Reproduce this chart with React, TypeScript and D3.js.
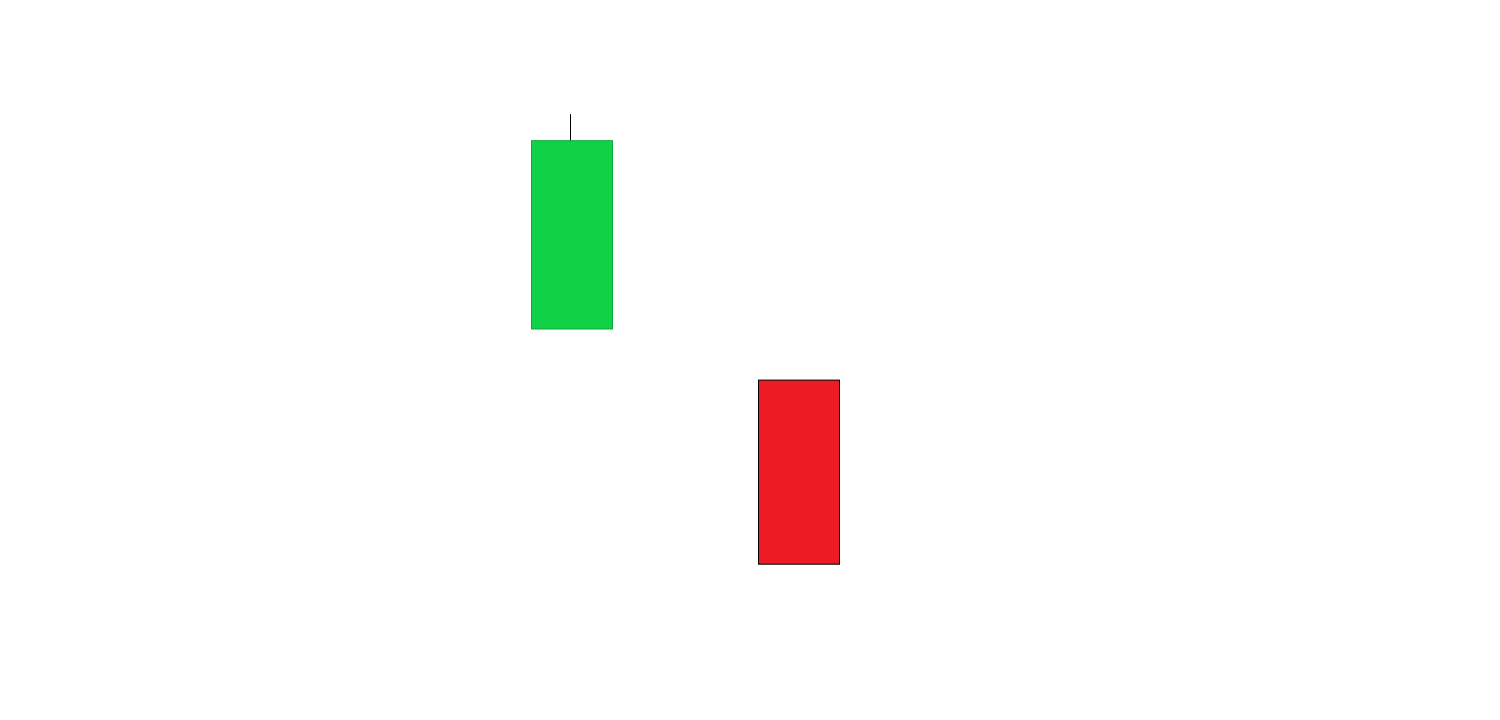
import React, { useRef, useEffect } from 'react';
import * as d3 from 'd3';

// Candles
const days = ['Day 1', 'Day 2'];
const opens = [53, 45.7];
const highs = [83.7, 45.7];
const lows = [53, 19.4];
const closes = [79.9, 19.4];

const W = 1500;
const H = 720;
const UP = '#10d246';
const UP_EDGE = '#0ea83c';
const DOWN = '#ed1c24';

export default function App() {
  const svgRef = useRef<SVGSVGElement>(null);

  useEffect(() => {
    if (!svgRef.current) return;
    const svg = d3.select(svgRef.current);
    svg.selectAll('*').remove();

    const x = d3.scalePoint<string>().domain(days).range([572, 799]);
    const y = d3.scaleLinear().domain([0, 100]).range([700, 0]);
    const candleW = 81;

    const data = days.map((d, i) => ({
      d, o: opens[i], h: highs[i], l: lows[i], c: closes[i],
    }));

    const g = svg.append('g');

    // wicks
    g.selectAll('line.wick')
      .data(data)
      .join('line')
      .attr('class', 'wick')
      .attr('x1', d => Math.round(x(d.d)!) - 1.5)
      .attr('x2', d => Math.round(x(d.d)!) - 1.5)
      .attr('y1', d => y(d.h))
      .attr('y2', d => y(d.l))
      .attr('stroke', '#000')
      .attr('stroke-width', 1);

    // bodies
    g.selectAll('rect.body')
      .data(data)
      .join('rect')
      .attr('class', 'body')
      .attr('x', d => x(d.d)! - candleW / 2)
      .attr('width', candleW)
      .attr('y', d => y(Math.max(d.o, d.c)))
      .attr('height', d => Math.abs(y(d.o) - y(d.c)))
      .attr('fill', d => (d.c >= d.o ? UP : DOWN))
      .attr('stroke', d => (d.c >= d.o ? UP_EDGE : '#000'))
      .attr('stroke-width', 1);
  }, []);

  return (
    <svg
      ref={svgRef}
      width={W}
      height={H}
      style={{ position: 'absolute', left: 0, top: 0, display: 'block', background: '#fff' }}
    />
  );
}
